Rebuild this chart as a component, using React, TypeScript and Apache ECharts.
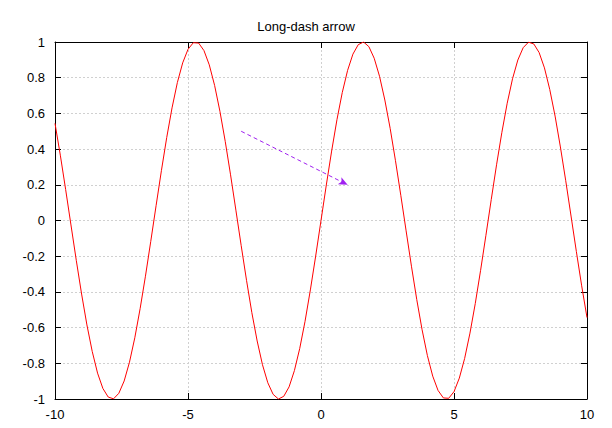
import { useEffect, useRef } from 'react'
import * as echarts from 'echarts'

const xs = [
  -10, -9.8, -9.6, -9.4, -9.2, -9, -8.8, -8.6, -8.4, -8.2, -8, -7.8, -7.6, -7.4, -7.2, -7, -6.8,
  -6.6, -6.4, -6.2, -6, -5.8, -5.6, -5.4, -5.2, -5, -4.8, -4.6, -4.4, -4.2, -4, -3.8, -3.6, -3.4,
  -3.2, -3, -2.8, -2.6, -2.4, -2.2, -2, -1.8, -1.6, -1.4, -1.2, -1, -0.8, -0.6, -0.4, -0.2, 0,
  0.2, 0.4, 0.6, 0.8, 1, 1.2, 1.4, 1.6, 1.8, 2, 2.2, 2.4, 2.6, 2.8, 3, 3.2, 3.4, 3.6, 3.8, 4, 4.2,
  4.4, 4.6, 4.8, 5, 5.2, 5.4, 5.6, 5.8, 6, 6.2, 6.4, 6.6, 6.8, 7, 7.2, 7.4, 7.6, 7.8, 8, 8.2, 8.4,
  8.6, 8.8, 9, 9.2, 9.4, 9.6, 9.8, 10,
]
const ys = [
  0.544, 0.366, 0.174, -0.025, -0.223, -0.412, -0.585, -0.734, -0.855, -0.941, -0.989, -0.999,
  -0.968, -0.899, -0.794, -0.657, -0.494, -0.312, -0.117, 0.083, 0.279, 0.465, 0.631, 0.773, 0.883,
  0.959, 0.996, 0.994, 0.952, 0.872, 0.757, 0.612, 0.443, 0.256, 0.058, -0.141, -0.335, -0.516,
  -0.675, -0.808, -0.909, -0.974, -1.0, -0.985, -0.932, -0.841, -0.717, -0.565, -0.389, -0.199, 0,
  0.199, 0.389, 0.565, 0.717, 0.841, 0.932, 0.985, 1.0, 0.974, 0.909, 0.808, 0.675, 0.516, 0.335,
  0.141, -0.058, -0.256, -0.443, -0.612, -0.757, -0.872, -0.952, -0.994, -0.996, -0.959, -0.883,
  -0.773, -0.631, -0.465, -0.279, -0.083, 0.117, 0.312, 0.494, 0.657, 0.794, 0.899, 0.968, 0.999,
  0.989, 0.941, 0.855, 0.734, 0.585, 0.412, 0.223, 0.025, -0.174, -0.366, -0.544,
]
// arrow from (-3, 0.5) to (1, 0.2)
const arrowFrom = [-3, 0.5]
const arrowTo = [1, 0.2]

const FONT = 'Liberation Sans'

export default function App() {
  const elRef = useRef<HTMLDivElement>(null)

  useEffect(() => {
    if (!elRef.current) return
    const chart = echarts.init(elRef.current, null, { renderer: 'svg' })
    const grid = { left: 55, right: 25, top: 42, bottom: 29 }
    const tick = { show: true, inside: true, length: 6, lineStyle: { color: '#000' } }
    const line = { show: true, onZero: false, lineStyle: { color: '#000', width: 1 } }
    const split = { show: true, lineStyle: { color: '#d0d0d0', type: [2, 2] as number[], width: 1 } }
    const label = { color: '#000', fontFamily: FONT, fontSize: 13 }
    chart.setOption({
      animation: false,
      backgroundColor: '#fff',
      title: {
        text: 'Long-dash arrow',
        left: 'center',
        top: 15,
        textStyle: { fontFamily: FONT, fontSize: 13, fontWeight: 'normal', color: '#000' },
      },
      grid: { ...grid, containLabel: false },
      xAxis: [
        {
          type: 'value', min: -10, max: 10, interval: 5, position: 'bottom',
          axisLine: line, axisTick: tick, splitLine: split,
          axisLabel: { ...label, margin: 9 },
        },
        {
          type: 'value', min: -10, max: 10, interval: 5, position: 'top',
          axisLine: line, axisTick: tick, splitLine: { show: false }, axisLabel: { show: false },
        },
      ],
      yAxis: [
        {
          type: 'value', min: -1, max: 1, interval: 0.2, position: 'left',
          axisLine: line, axisTick: tick, splitLine: split,
          axisLabel: { ...label, margin: 10 },
        },
        {
          type: 'value', min: -1, max: 1, interval: 0.2, position: 'right',
          axisLine: line, axisTick: tick, splitLine: { show: false }, axisLabel: { show: false },
        },
      ],
      series: [
        {
          type: 'line',
          data: xs.map((x, i) => [x, ys[i]]),
          showSymbol: false,
          lineStyle: { color: '#ff0000', width: 1 },
          silent: true,
        },
        {
          type: 'line',
          data: [],
          markLine: {
            silent: true,
            symbol: ['none', 'arrow'],
            symbolSize: [6, 9],
            label: { show: false },
            lineStyle: { color: '#a020f0', type: [4, 3], width: 1 },
            data: [[{ coord: arrowFrom }, { coord: arrowTo }]],
          },
        },
      ],
    })
    return () => chart.dispose()
  }, [])

  return (
    <div
      ref={elRef}
      style={{ position: 'fixed', left: 0, top: 0, width: 612, height: 428, background: '#fff' }}
    />
  )
}
